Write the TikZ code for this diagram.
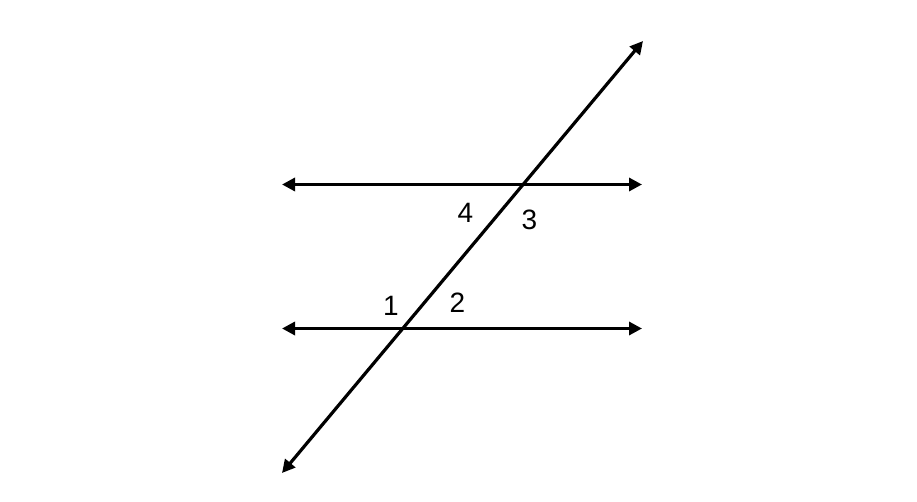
\documentclass[tikz,border=0pt]{standalone}
\usepackage{fontspec}
\setmainfont{Liberation Sans}
\usetikzlibrary{arrows.meta, positioning}

\begin{document}
\begin{tikzpicture}[x=1pt, y=-1pt, >={Triangle[length=13pt,width=13pt]},
                line width=3.2pt, angle/.style={font=\fontsize{28}{30}\selectfont, inner sep=0pt}]

                \useasboundingbox (0,0) rectangle (917,502);

                \coordinate (topL) at (282,184.5);
                \coordinate (topR) at (642,184.5);
                \coordinate (botL) at (282,328.5);
                \coordinate (botR) at (642,328.5);
                \coordinate (transA) at (282,473);
                \coordinate (transB) at (643,41);

                \path[<->]
                (topL) edge (topR)
                (botL) edge (botR)
                (transA) edge (transB);

                \node[angle] (a4) at (465.5,213) {4};
                \node[angle] (a3) at (529.5,219.5) {3};
                \node[angle] (a1) at (391,305.5) {1};
                \node[angle] (a2) at (457.5,302.5) {2};
            \end{tikzpicture}
\end{document}
